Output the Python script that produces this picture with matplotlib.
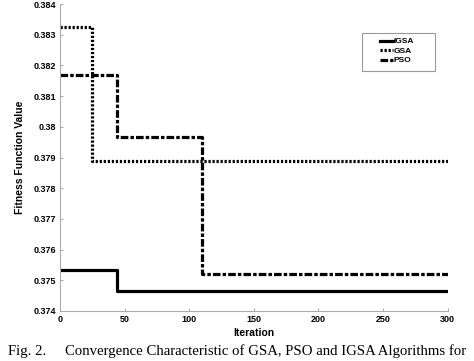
import matplotlib
matplotlib.use("Agg")
import matplotlib.pyplot as plt
from matplotlib.patches import Rectangle

iter_igsa = [0, 44, 300]
fit_igsa = [0.37535, 0.37466, 0.37466]
iter_gsa = [0, 25, 300]
fit_gsa = [0.38324, 0.37889, 0.37889]
iter_pso = [0, 44, 110, 300]
fit_pso = [0.38168, 0.37966, 0.37521, 0.37521]

xticks = [0, 50, 100, 150, 200, 250, 300]
xtick_labels = ["0", "50", "100", "150", "200", "250", "300"]
yticks = [0.374, 0.375, 0.376, 0.377, 0.378, 0.379, 0.38, 0.381, 0.382, 0.383, 0.384]
ytick_labels = ["0.374", "0.375", "0.376", "0.377", "0.378", "0.379", "0.38", "0.381", "0.382", "0.383", "0.384"]

plt.rcParams['font.family'] = ['Liberation Sans Narrow', 'Liberation Sans', 'DejaVu Sans']
plt.rcParams['lines.scale_dashes'] = False

W, H = 474, 361
fig = plt.figure(figsize=(W / 100, H / 100), dpi=100)
left, right, bottom, top = 60, 447.7, 311, 4
ax = fig.add_axes([left / W, 1 - bottom / H, (right - left) / W, (bottom - top) / H])

ax.step(iter_igsa, fit_igsa, where='post', color='black', lw=2.3, label='IGSA')
ax.step(iter_gsa, fit_gsa, where='post', color='black', lw=2.3, linestyle=(0, (1.6, 1.3)), label='GSA')
ax.step(iter_pso, fit_pso, where='post', color='black', lw=2.3, linestyle=(0, (5.5, 1.5, 2.5, 1.5)), label='PSO')

ax.set_xlim(0, 300)
ax.set_ylim(0.374, 0.384)
ax.set_xticks(xticks)
ax.set_xticklabels(xtick_labels, fontsize=6.5, fontweight='bold')
ax.set_yticks(yticks)
ax.set_yticklabels(ytick_labels, fontsize=6.5, fontweight='bold')
ax.tick_params(direction='in', length=2.5, width=0.6, color='#999999', pad=3)
for s in ['top', 'right']:
    ax.spines[s].set_visible(False)
for s in ['left', 'bottom']:
    ax.spines[s].set_color('#aaaaaa')
    ax.spines[s].set_linewidth(0.8)

ax.set_xlabel('Iteration', fontsize=7.5, fontweight='bold', labelpad=3)
ax.set_ylabel('Fitness Function Value', fontsize=7.5, fontweight='bold', labelpad=6)

leg = ax.legend(loc='center', bbox_to_anchor=(397 / W, 1 - 51 / H), bbox_transform=fig.transFigure,
                frameon=False, handlelength=1.6, handletextpad=0.05,
                labelspacing=0.2, borderpad=0.0, prop={'weight': 'bold', 'size': 6})
fig.patches.append(Rectangle((362 / W, 1 - 71 / H), 73 / W, 38 / H, transform=fig.transFigure,
                             fill=False, edgecolor='#999999', linewidth=0.8))

fig.text(0.5, 3 / H, 'Fig. 2.     Convergence Characteristic of GSA, PSO and IGSA Algorithms for',
         fontsize=10.6, family='Liberation Serif', ha='center', va='bottom')

fig.savefig('out.png', dpi=100)
